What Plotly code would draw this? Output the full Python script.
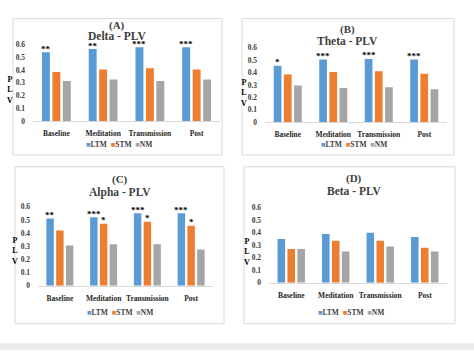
import plotly.graph_objects as go

W, H = 474, 355

categories = ["Baseline", "Meditation", "Transmission", "Post"]
groups = ["LTM", "STM", "NM"]
colors = {"LTM": "#5B9BD5", "STM": "#ED7D31", "NM": "#A5A5A5"}

# Panel data
delta_ltm = [0.54, 0.565, 0.58, 0.58]
delta_stm = [0.385, 0.405, 0.415, 0.405]
delta_nm = [0.315, 0.325, 0.315, 0.325]
delta_ltm_sig = ["**", "**", "***", "***"]
delta_stm_sig = ["", "", "", ""]

theta_ltm = [0.455, 0.505, 0.51, 0.505]
theta_stm = [0.385, 0.405, 0.41, 0.39]
theta_nm = [0.295, 0.275, 0.28, 0.265]
theta_ltm_sig = ["*", "***", "***", "***"]
theta_stm_sig = ["", "", "", ""]

alpha_ltm = [0.51, 0.52, 0.55, 0.55]
alpha_stm = [0.42, 0.47, 0.485, 0.455]
alpha_nm = [0.305, 0.315, 0.315, 0.275]
alpha_ltm_sig = ["**", "***", "***", "***"]
alpha_stm_sig = ["", "*", "*", "*"]

beta_ltm = [0.35, 0.39, 0.40, 0.365]
beta_stm = [0.27, 0.335, 0.335, 0.28]
beta_nm = [0.27, 0.25, 0.29, 0.25]
beta_ltm_sig = ["", "", "", ""]
beta_stm_sig = ["", "", "", ""]

y_ticks = [0, 0.1, 0.2, 0.3, 0.4, 0.5, 0.6]
y_ticktext = ["0", "0.1", "0.2", "0.3", "0.4", "0.5", "0.6"]

panels = [
    dict(letter="(A)", name="Delta - PLV", data=(delta_ltm, delta_stm, delta_nm), sig=(delta_ltm_sig, delta_stm_sig),
         xpx=(33, 220), ypx=(120, 41.7), box=(13, 15, 222, 155), t1=22, t2=33, tx=117,
         leg=(119, 144), plv=(10, 88)),
    dict(letter="(B)", name="Theta - PLV", data=(theta_ltm, theta_stm, theta_nm), sig=(theta_ltm_sig, theta_stm_sig),
         xpx=(265, 447), ypx=(121, 45), box=(242, 15, 454, 155), t1=26, t2=38, tx=347,
         leg=(354, 144), plv=(244, 91)),
    dict(letter="(C)", name="Alpha - PLV", data=(alpha_ltm, alpha_stm, alpha_nm), sig=(alpha_ltm_sig, alpha_stm_sig),
         xpx=(38, 213), ypx=(289, 208), box=(15, 167, 224, 328), t1=180, t2=193, tx=120,
         leg=(120, 317), plv=(15, 253)),
    dict(letter="(D)", name="Beta - PLV", data=(beta_ltm, beta_stm, beta_nm), sig=(beta_ltm_sig, beta_stm_sig),
         xpx=(269, 447), ypx=(286, 209), box=(244, 167, 455, 328), t1=179, t2=192, tx=354,
         leg=(351, 317), plv=(247, 254)),
]

FONT = "Liberation Serif"
BARGAP, BARGROUPGAP = 0.33, 0.24
fig = go.Figure()
shapes = []
annotations = []
layout = {}

for i, p in enumerate(panels):
    n = "" if i == 0 else str(i + 1)
    xa, ya = "x" + n, "y" + n
    ltm, stm, nm = p["data"]
    sig_l, sig_s = p["sig"]
    for g, vals in [("LTM", ltm), ("STM", stm), ("NM", nm)]:
        fig.add_trace(go.Bar(
            x=categories, y=vals, name=g, marker=dict(color=colors[g], line=dict(width=0)),
            xaxis=xa, yaxis=ya, showlegend=False, hoverinfo="skip",
        ))
    x0, x1 = p["xpx"]
    yb, yt = p["ypx"]
    # significance stars placed on bar tops (axis coordinates, pixel offset of the grouped bar)
    slot = (x1 - x0) / len(categories) * (1 - BARGAP) / 3
    for sig, vals, off in [(sig_l, ltm, -slot), (sig_s, stm, 0)]:
        for c, v, s in zip(categories, vals, sig):
            if s:
                annotations.append(dict(text=s, x=c, y=v, xref=xa, yref=ya, showarrow=False,
                                        xanchor="center", yanchor="middle", xshift=off, yshift=3.5,
                                        font=dict(family=FONT, size=9, color="#000000", weight="bold")))
    layout["xaxis" + n] = dict(
        domain=[x0 / W, x1 / W], anchor=ya, type="category",
        showline=True, linecolor="#D9D9D9", linewidth=1, ticks="",
        showgrid=False, zeroline=False, ticklabelstandoff=5,
        tickfont=dict(family=FONT, size=7.5, color="#262626", weight="bold"),
    )
    layout["yaxis" + n] = dict(
        domain=[1 - yb / H, 1 - yt / H], anchor=xa, range=[0, 0.6],
        tickvals=y_ticks, ticktext=y_ticktext, showline=False, ticks="",
        showgrid=False, zeroline=False, ticklabelstandoff=7,
        tickfont=dict(family=FONT, size=7.5, color="#404040", weight="bold"),
    )
    bx0, by0, bx1, by1 = p["box"]
    shapes.append(dict(type="rect", xref="paper", yref="paper",
                       x0=bx0 / W, x1=bx1 / W, y0=1 - by1 / H, y1=1 - by0 / H,
                       line=dict(color="#D9D9D9", width=1), fillcolor="rgba(0,0,0,0)", layer="below"))
    annotations.append(dict(text=p["letter"], x=p["tx"] / W, y=1 - p["t1"] / H, xref="paper", yref="paper",
                            showarrow=False, xanchor="center", yanchor="middle",
                            font=dict(family=FONT, size=11, color="#404040", weight="bold")))
    annotations.append(dict(text=p["name"], x=p["tx"] / W, y=1 - p["t2"] / H, xref="paper", yref="paper",
                            showarrow=False, xanchor="center", yanchor="middle",
                            font=dict(family=FONT, size=11.5, color="#404040", weight="bold")))
    leg = ("<span style='color:%s'>■</span>LTM  <span style='color:%s'>■</span>STM  "
           "<span style='color:%s'>■</span>NM") % (colors["LTM"], colors["STM"], colors["NM"])
    annotations.append(dict(text=leg, x=p["leg"][0] / W, y=1 - p["leg"][1] / H, xref="paper", yref="paper",
                            showarrow=False, xanchor="center", yanchor="middle",
                            font=dict(family=FONT, size=7.5, color="#404040", weight="bold")))
    annotations.append(dict(text="P<br>L<br>V", x=p["plv"][0] / W, y=1 - p["plv"][1] / H, xref="paper", yref="paper",
                            showarrow=False, xanchor="center", yanchor="middle",
                            font=dict(family=FONT, size=8, color="#000000", weight="bold")))

# bottom gray strip
shapes.append(dict(type="rect", xref="paper", yref="paper", x0=0, x1=1, y0=0, y1=1 - 348 / H,
                   line=dict(width=0), fillcolor="#EBEBEB", layer="below"))

fig.update_layout(
    width=W, height=H, margin=dict(l=0, r=0, t=0, b=0),
    paper_bgcolor="white", plot_bgcolor="rgba(0,0,0,0)",
    barmode="group", bargap=BARGAP, bargroupgap=BARGROUPGAP,
    shapes=shapes, annotations=annotations, showlegend=False,
    **layout,
)

fig.write_html("out.html", config={"displayModeBar": False},
               post_script="document.body.style.margin='0';document.body.style.overflow='hidden';")
